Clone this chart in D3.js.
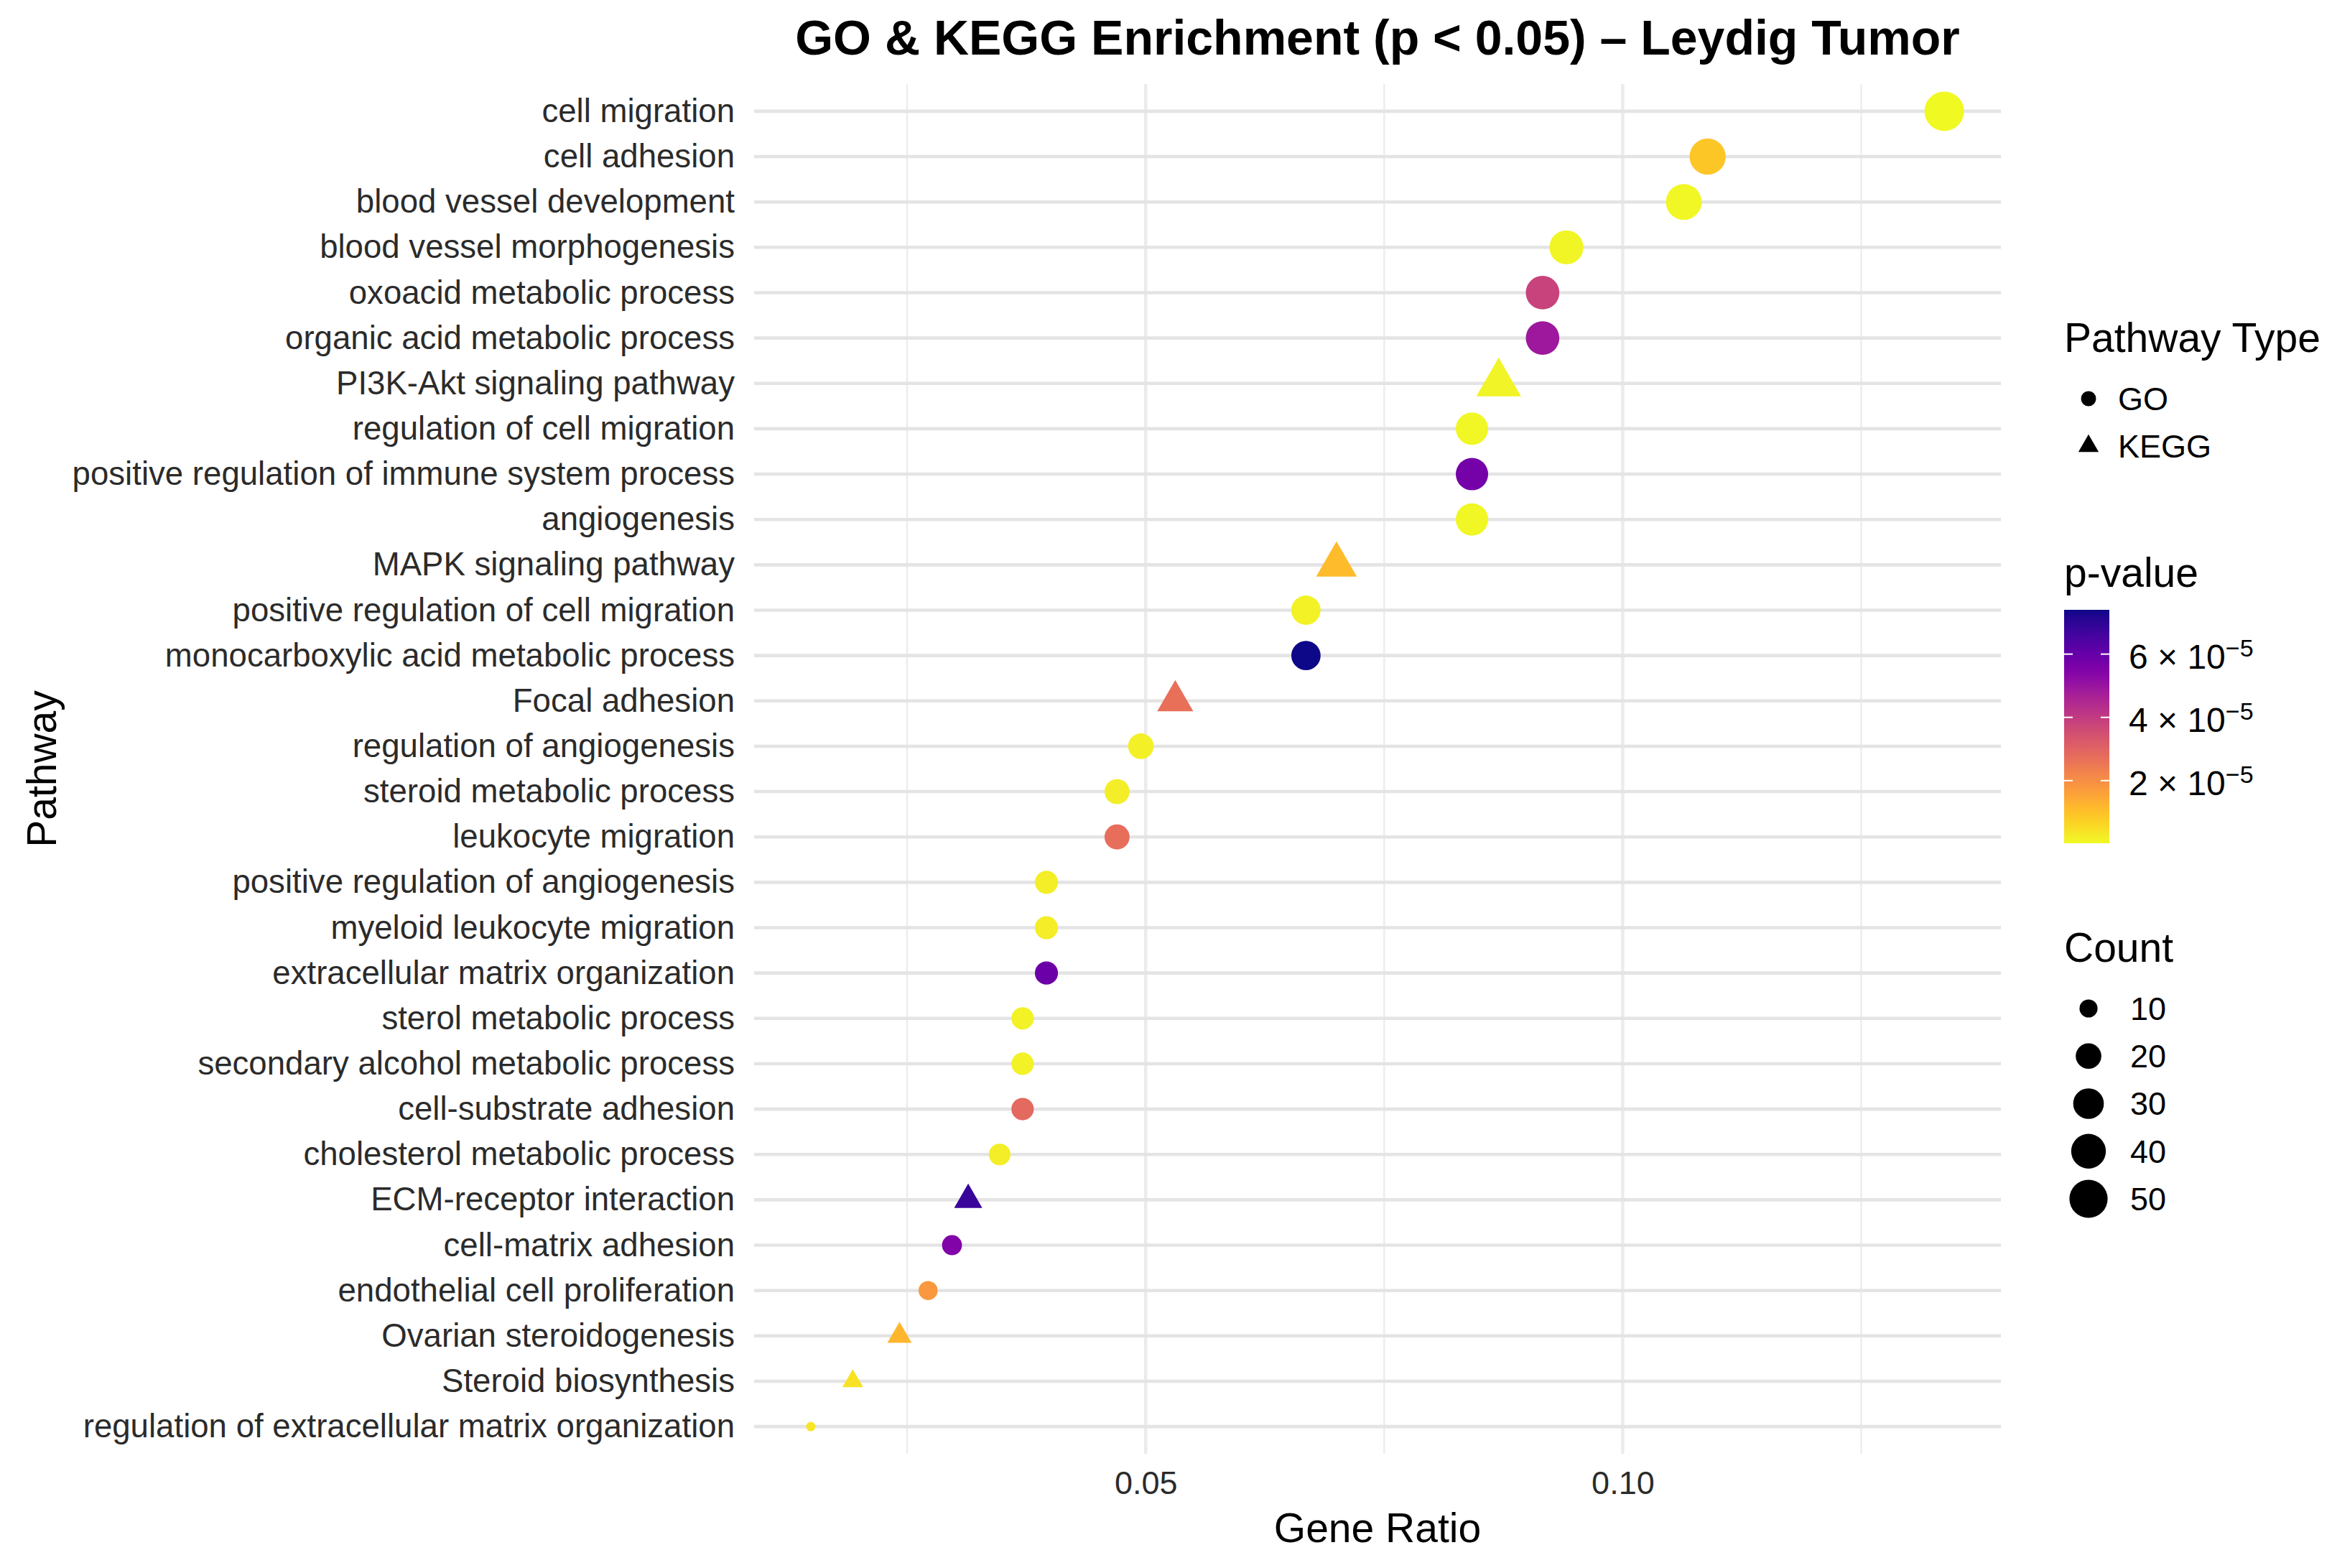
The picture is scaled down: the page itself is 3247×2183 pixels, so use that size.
<!DOCTYPE html>
<html>
<head>
<meta charset="utf-8">
<script src="https://cdn.jsdelivr.net/npm/d3@7"></script>
<style>
  body { margin: 0; background: #fff; }
  text { font-family: "Liberation Sans", Arial, Helvetica, sans-serif; }
</style>
</head>
<body>
<div id="chart"></div>
<script>
// pathways, top to bottom as they appear on the y axis
const pathways = [
  "cell migration", "cell adhesion", "blood vessel development", "blood vessel morphogenesis",
  "oxoacid metabolic process", "organic acid metabolic process", "PI3K-Akt signaling pathway",
  "regulation of cell migration", "positive regulation of immune system process", "angiogenesis",
  "MAPK signaling pathway", "positive regulation of cell migration", "monocarboxylic acid metabolic process",
  "Focal adhesion", "regulation of angiogenesis", "steroid metabolic process", "leukocyte migration",
  "positive regulation of angiogenesis", "myeloid leukocyte migration", "extracellular matrix organization",
  "sterol metabolic process", "secondary alcohol metabolic process", "cell-substrate adhesion",
  "cholesterol metabolic process", "ECM-receptor interaction", "cell-matrix adhesion",
  "endothelial cell proliferation", "Ovarian steroidogenesis", "Steroid biosynthesis",
  "regulation of extracellular matrix organization"
];
const pathwayTypes = [
  "GO", "GO", "GO", "GO", "GO", "GO", "KEGG", "GO", "GO", "GO",
  "KEGG", "GO", "GO", "KEGG", "GO", "GO", "GO", "GO", "GO", "GO",
  "GO", "GO", "GO", "GO", "KEGG", "GO", "GO", "KEGG", "KEGG", "GO"
];
const geneRatios = [
  0.1337, 0.1089, 0.1064, 0.0941, 0.0916, 0.0916, 0.0870, 0.0842, 0.0842, 0.0842,
  0.0700, 0.0668, 0.0668, 0.0531, 0.0495, 0.0470, 0.0470, 0.0396, 0.0396, 0.0396,
  0.0371, 0.0371, 0.0371, 0.0347, 0.0314, 0.0297, 0.0272, 0.0242, 0.0193, 0.0149
];
const geneCounts = [
  54, 44, 43, 38, 37, 37, 36, 34, 34, 34,
  29, 27, 27, 22, 20, 19, 19, 16, 16, 16,
  15, 15, 15, 14, 13, 12, 11, 10, 8, 6
];
const pValues = [
  0.02e-5, 0.9e-5, 0.06e-5, 0.08e-5, 3.8e-5, 4.9e-5, 0.12e-5, 0.05e-5, 5.7e-5, 0.06e-5,
  1.1e-5, 0.15e-5, 7.4e-5, 2.7e-5, 0.18e-5, 0.2e-5, 2.75e-5, 0.22e-5, 0.25e-5, 5.9e-5,
  0.16e-5, 0.16e-5, 2.85e-5, 0.2e-5, 6.8e-5, 5.5e-5, 1.8e-5, 1.2e-5, 0.4e-5, 0.35e-5
];

const xMajorBreaks = [0.05, 0.10];
const xMinorBreaks = [0.025, 0.075, 0.125];
const pBreaks = [2e-5, 4e-5, 6e-5];
const pBreakLabels = ["2", "4", "6"];
const countBreaks = [10, 20, 30, 40, 50];
const typeLevels = ["GO", "KEGG"];

const width = 3247, height = 2183;
const panel = {left: 1050, right: 2786, top: 117, bottom: 2024};

let rows = pathways.map(function(p, i){
  return {name: p, type: pathwayTypes[i], ratio: geneRatios[i], count: geneCounts[i], p: pValues[i]};
});

let svg = d3.select("#chart").append("svg")
  .attr("width", width)
  .attr("height", height)
  .style("background", "#fff");

// x scale with ggplot-like 5% expansion
let xExt = d3.extent(geneRatios);
let xPad = (xExt[1] - xExt[0]) * 0.05;
let x = d3.scaleLinear()
  .domain([xExt[0] - xPad, xExt[1] + xPad])
  .range([panel.left, panel.right]);

let y = d3.scalePoint()
  .domain(pathways)
  .range([panel.top, panel.bottom])
  .padding(0.6);

let pExt = d3.extent(pValues);
let color = d3.scaleSequential(function(t){ return d3.interpolatePlasma(1 - t); })
  .domain(pExt);

// area based size scale (diameter in px)
let cExt = d3.extent(geneCounts);
let sizeT = d3.scaleLinear().domain(cExt).range([0, 1]).clamp(true);
let diam = function(c){ return 13 + (55 - 13) * Math.sqrt(sizeT(c)); };

function symbolPath(type, d){
  let area = Math.PI * (d / 2) * (d / 2);
  return d3.symbol().type(type == "KEGG" ? d3.symbolTriangle : d3.symbolCircle).size(area)();
}

// grid
let grid = svg.append("g").attr("class", "grid");
grid.selectAll(".minor")
  .data(xMinorBreaks)
  .enter().append("line")
  .attr("x1", d => x(d)).attr("x2", d => x(d))
  .attr("y1", panel.top).attr("y2", panel.bottom)
  .style("stroke", "#ebebeb").style("stroke-width", 2.2);
grid.selectAll(".majorx")
  .data(xMajorBreaks)
  .enter().append("line")
  .attr("x1", d => x(d)).attr("x2", d => x(d))
  .attr("y1", panel.top).attr("y2", panel.bottom)
  .style("stroke", "#ebebeb").style("stroke-width", 4.4);
grid.selectAll(".majory")
  .data(pathways)
  .enter().append("line")
  .attr("x1", panel.left).attr("x2", panel.right)
  .attr("y1", d => y(d)).attr("y2", d => y(d))
  .style("stroke", "#e4e4e4").style("stroke-width", 4.6);

// points
svg.append("g")
  .selectAll("path")
  .data(rows)
  .enter().append("path")
  .attr("transform", d => "translate(" + x(d.ratio) + "," + y(d.name) + ")")
  .attr("d", d => symbolPath(d.type, diam(d.count)))
  .style("fill", d => color(d.p));

// axes
let xAxis = svg.append("g")
  .attr("transform", "translate(0," + panel.bottom + ")")
  .call(d3.axisBottom(x).tickValues(xMajorBreaks).tickSize(0).tickPadding(24).tickFormat(d3.format(".2f")));
xAxis.select(".domain").remove();
xAxis.selectAll("text")
  .style("font-size", "45px")
  .style("fill", "#2b2b2b")
  .style("font-family", "'Liberation Sans', Arial, sans-serif");

let yAxis = svg.append("g")
  .attr("transform", "translate(" + panel.left + ",0)")
  .call(d3.axisLeft(y).tickSize(0).tickPadding(27));
yAxis.select(".domain").remove();
yAxis.selectAll("text")
  .style("font-size", "45.6px")
  .style("fill", "#2b2b2b")
  .style("font-family", "'Liberation Sans', Arial, sans-serif");

// titles
svg.append("text")
  .attr("x", (panel.left + panel.right) / 2)
  .attr("y", 76)
  .attr("text-anchor", "middle")
  .style("font-size", "68px")
  .style("font-weight", "bold")
  .text("GO & KEGG Enrichment (p < 0.05) \u2013 Leydig Tumor");

svg.append("text")
  .attr("x", (panel.left + panel.right) / 2)
  .attr("y", 2147)
  .attr("text-anchor", "middle")
  .style("font-size", "57px")
  .text("Gene Ratio");

svg.append("text")
  .attr("transform", "translate(78," + ((panel.top + panel.bottom) / 2) + ") rotate(-90)")
  .attr("text-anchor", "middle")
  .style("font-size", "57px")
  .text("Pathway");

// legends
let lg = svg.append("g").attr("class", "legend");
let legX = 2874, keyX = 2908;

// Pathway Type
lg.append("text").attr("x", legX).attr("y", 490).style("font-size", "57px").text("Pathway Type");
let typeY = d3.scalePoint().domain(typeLevels).range([555, 621]);
lg.selectAll(".typekey")
  .data(typeLevels)
  .enter().append("path")
  .attr("transform", d => "translate(" + keyX + "," + typeY(d) + ")")
  .attr("d", d => symbolPath(d, 21))
  .style("fill", "#000");
lg.selectAll(".typelab")
  .data(typeLevels)
  .enter().append("text")
  .attr("x", 2949)
  .attr("y", d => typeY(d))
  .attr("dy", "0.35em")
  .style("font-size", "45px")
  .text(d => d);

// p-value colorbar
lg.append("text").attr("x", legX).attr("y", 817).style("font-size", "57px").text("p-value");
let cb = {x: 2874, w: 63, top: 849, bottom: 1174};
let cbY = d3.scaleLinear().domain(pExt).range([cb.bottom, cb.top]);
let grad = svg.append("defs").append("linearGradient")
  .attr("id", "pgrad")
  .attr("x1", 0).attr("y1", 1).attr("x2", 0).attr("y2", 0);
grad.selectAll("stop")
  .data(d3.range(0, 1.0001, 0.02))
  .enter().append("stop")
  .attr("offset", d => d)
  .attr("stop-color", d => color(pExt[0] + d * (pExt[1] - pExt[0])));
lg.append("rect")
  .attr("x", cb.x).attr("y", cb.top)
  .attr("width", cb.w).attr("height", cb.bottom - cb.top)
  .style("fill", "url(#pgrad)");
pBreaks.forEach(function(b, i){
  let yy = cbY(b);
  lg.append("line").attr("x1", cb.x).attr("x2", cb.x + 12).attr("y1", yy).attr("y2", yy)
    .style("stroke", "#fff").style("stroke-width", 2);
  lg.append("line").attr("x1", cb.x + cb.w - 12).attr("x2", cb.x + cb.w).attr("y1", yy).attr("y2", yy)
    .style("stroke", "#fff").style("stroke-width", 2);
  let t = lg.append("text").attr("x", 2964).attr("y", yy).attr("dy", "0.42em").style("font-size", "48px");
  t.append("tspan").text(pBreakLabels[i] + " \u00d7 10");
  t.append("tspan").attr("dy", "-0.5em").style("font-size", "34px").text("\u22125");
});

// Count
lg.append("text").attr("x", legX).attr("y", 1339).style("font-size", "57px").text("Count");
let countY = d3.scalePoint().domain(countBreaks).range([1404, 1669]);
lg.selectAll(".countkey")
  .data(countBreaks)
  .enter().append("circle")
  .attr("cx", keyX)
  .attr("cy", d => countY(d))
  .attr("r", d => diam(d) / 2)
  .style("fill", "#000");
lg.selectAll(".countlab")
  .data(countBreaks)
  .enter().append("text")
  .attr("x", 2966)
  .attr("y", d => countY(d))
  .attr("dy", "0.35em")
  .style("font-size", "45px")
  .text(d => d);
</script>
</body>
</html>
